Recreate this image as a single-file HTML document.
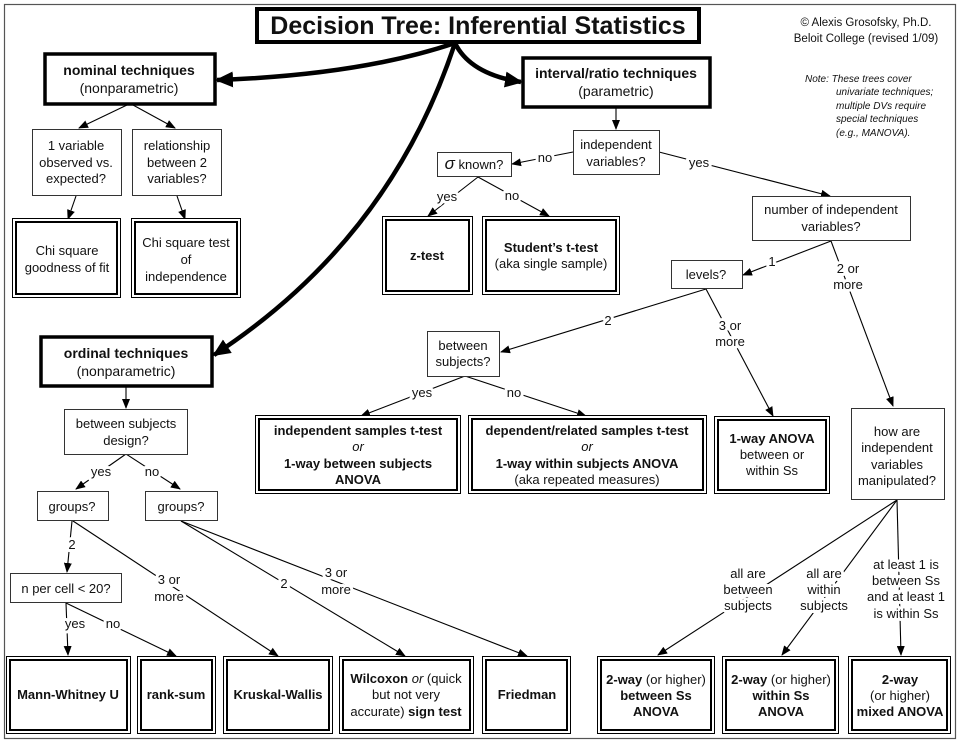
<!DOCTYPE html>
<html><head><meta charset="utf-8"><style>
html,body{margin:0;padding:0;background:#fff}
svg{display:block}
text{font-family:"Liberation Sans",Arial,sans-serif;fill:#111}
.l{font-size:13px;text-anchor:middle}
.b{font-weight:bold}
.lb{font-size:13px;text-anchor:middle;stroke:#fff;stroke-width:6;paint-order:stroke;stroke-linejoin:round}
</style></head><body>
<svg width="962" height="743" viewBox="0 0 962 743" xmlns="http://www.w3.org/2000/svg">
<defs>
<marker id="a" markerWidth="10" markerHeight="8" refX="9" refY="4" orient="auto" markerUnits="userSpaceOnUse"><path d="M0,0 L10,4 L0,8 z" fill="#000"/></marker>
<marker id="t" markerWidth="18" markerHeight="16" refX="16" refY="8" orient="auto" markerUnits="userSpaceOnUse"><path d="M0,0 L18,8 L0,16 z" fill="#000"/></marker>
</defs>
<rect x="4.5" y="4.5" width="951" height="734" fill="none" stroke="#555" stroke-width="1.2"/>

<!-- title -->
<rect x="257" y="9" width="442" height="33" fill="#fff" stroke="#000" stroke-width="4"/>
<text x="478" y="34" style="font-size:25px;font-weight:bold;text-anchor:middle">Decision Tree: Inferential Statistics</text>
<text x="866" y="26" style="font-size:11.5px;text-anchor:middle">© Alexis Grosofsky, Ph.D.</text>
<text x="866" y="42" style="font-size:11.5px;text-anchor:middle">Beloit College (revised 1/09)</text>
<g style="font-size:10px;font-style:italic">
<text x="805" y="82">Note: These trees cover</text>
<text x="836" y="95">univariate techniques;</text>
<text x="836" y="109">multiple DVs require</text>
<text x="836" y="122">special techniques</text>
<text x="836" y="136">(e.g., MANOVA).</text>
</g>

<!-- thick arrows -->
<g fill="none" stroke="#000" stroke-width="4.5">
<path d="M455,43 Q360,75 217,80" marker-end="url(#t)"/>
<path d="M455,43 Q470,74 521,82" marker-end="url(#t)"/>
<path d="M455,43 Q390,240 214,355" marker-end="url(#t)"/>
</g>

<!-- thin lines -->
<g fill="none" stroke="#000" stroke-width="1.1" marker-end="url(#a)">
<line x1="127" y1="105" x2="79" y2="128"/>
<line x1="133" y1="105" x2="175" y2="128"/>
<line x1="76" y1="196" x2="68" y2="219"/>
<line x1="177" y1="196" x2="185" y2="219"/>
<line x1="616" y1="108" x2="616" y2="129"/>
<line x1="573" y1="152" x2="512" y2="164"/>
<line x1="478" y1="177" x2="428" y2="216"/>
<line x1="478" y1="177" x2="549" y2="216"/>
<line x1="659" y1="152" x2="830" y2="196"/>
<line x1="831" y1="241" x2="743" y2="275"/>
<line x1="831" y1="241" x2="893" y2="406"/>
<line x1="706" y1="289" x2="501" y2="352"/>
<line x1="706" y1="289" x2="773" y2="416"/>
<line x1="465" y1="376" x2="361" y2="416"/>
<line x1="465" y1="376" x2="586" y2="416"/>
<line x1="897" y1="500" x2="658" y2="655"/>
<line x1="897" y1="500" x2="782" y2="655"/>
<line x1="897" y1="500" x2="901" y2="655"/>
<line x1="126" y1="387" x2="126" y2="408"/>
<line x1="126" y1="454" x2="76" y2="489"/>
<line x1="126" y1="454" x2="180" y2="489"/>
<line x1="72" y1="521" x2="67" y2="572"/>
<line x1="73" y1="521" x2="278" y2="656"/>
<line x1="66" y1="603" x2="68" y2="655"/>
<line x1="66" y1="603" x2="176" y2="656"/>
<line x1="181" y1="521" x2="405" y2="656"/>
<line x1="181" y1="521" x2="527" y2="656"/>
</g>

<!-- edge labels -->
<text class="lb" x="545" y="162">no</text>
<text class="lb" x="447" y="201">yes</text>
<text class="lb" x="512" y="200">no</text>
<text class="lb" x="699" y="167">yes</text>
<text class="lb" x="772" y="266">1</text>
<text class="lb" x="848" y="273">2 or</text><text class="lb" x="848" y="289">more</text>
<text class="lb" x="608" y="325">2</text>
<text class="lb" x="730" y="330">3 or</text><text class="lb" x="730" y="346">more</text>
<text class="lb" x="422" y="397">yes</text>
<text class="lb" x="514" y="397">no</text>
<text class="lb" x="748" y="578">all are</text><text class="lb" x="748" y="594">between</text><text class="lb" x="748" y="610">subjects</text>
<text class="lb" x="824" y="578">all are</text><text class="lb" x="824" y="594">within</text><text class="lb" x="824" y="610">subjects</text>
<text class="lb" x="906" y="569">at least 1 is</text><text class="lb" x="906" y="585">between Ss</text><text class="lb" x="906" y="601">and at least 1</text><text class="lb" x="906" y="618">is within Ss</text>
<text class="lb" x="101" y="476">yes</text>
<text class="lb" x="152" y="476">no</text>
<text class="lb" x="72" y="549">2</text>
<text class="lb" x="169" y="584">3 or</text><text class="lb" x="169" y="601">more</text>
<text class="lb" x="75" y="628">yes</text>
<text class="lb" x="113" y="628">no</text>
<text class="lb" x="284" y="588">2</text>
<text class="lb" x="336" y="577">3 or</text><text class="lb" x="336" y="594">more</text>

<!-- thick boxes -->
<g fill="#fff" stroke="#000" stroke-width="3.5">
<rect x="45" y="54" width="170" height="50"/>
<rect x="523" y="58" width="187" height="49"/>
<rect x="41" y="337" width="171" height="49"/>
</g>
<text class="l b" x="129" y="75" style="font-size:14px">nominal techniques</text>
<text class="l" x="129" y="93" style="font-size:14px">(nonparametric)</text>
<text class="l b" x="616" y="78" style="font-size:14px">interval/ratio techniques</text>
<text class="l" x="616" y="96" style="font-size:14px">(parametric)</text>
<text class="l b" x="126" y="358" style="font-size:14px">ordinal techniques</text>
<text class="l" x="126" y="376" style="font-size:14px">(nonparametric)</text>

<!-- question boxes -->
<g fill="#fff" stroke="#333" stroke-width="1">
<rect x="32.5" y="129.5" width="89" height="66"/>
<rect x="132.5" y="129.5" width="89" height="66"/>
<rect x="573.5" y="130.5" width="86" height="44"/>
<rect x="437.5" y="152.5" width="74" height="24"/>
<rect x="752.5" y="196.5" width="158" height="44"/>
<rect x="671.5" y="260.5" width="71" height="28"/>
<rect x="427.5" y="331.5" width="72" height="45"/>
<rect x="851.5" y="408.5" width="93" height="91"/>
<rect x="64.5" y="409.5" width="123" height="45"/>
<rect x="37.5" y="491.5" width="71" height="29"/>
<rect x="145.5" y="491.5" width="72" height="29"/>
<rect x="10.5" y="573.5" width="111" height="29"/>
</g>
<text class="l" x="76" y="150">1 variable</text><text class="l" x="76" y="167">observed vs.</text><text class="l" x="76" y="183">expected?</text>
<text class="l" x="177" y="150">relationship</text><text class="l" x="177" y="167">between 2</text><text class="l" x="177" y="183">variables?</text>
<text class="l" x="616" y="149">independent</text><text class="l" x="616" y="166">variables?</text>
<text class="l" x="474" y="169"><tspan style="font-style:italic;font-size:17px">σ</tspan> known?</text>
<text class="l" x="831" y="214">number of independent</text><text class="l" x="831" y="231">variables?</text>
<text class="l" x="706" y="279">levels?</text>
<text class="l" x="463" y="350">between</text><text class="l" x="463" y="366">subjects?</text>
<text class="l" x="897" y="436">how are</text><text class="l" x="897" y="452">independent</text><text class="l" x="897" y="469">variables</text><text class="l" x="897" y="485">manipulated?</text>
<text class="l" x="126" y="428">between subjects</text><text class="l" x="126" y="445">design?</text>
<text class="l" x="72" y="511">groups?</text>
<text class="l" x="181" y="511">groups?</text>
<text class="l" x="66" y="593">n per cell &lt; 20?</text>

<!-- double boxes -->
<g fill="#fff" stroke="#000">
<g stroke-width="1"><rect x="12.5" y="218.5" width="108" height="79"/><rect x="131.5" y="218.5" width="109" height="79"/>
<rect x="382.5" y="216.5" width="90" height="78"/><rect x="482.5" y="216.5" width="137" height="78"/>
<rect x="255.5" y="415.5" width="205" height="78"/><rect x="468.5" y="415.5" width="238" height="78"/><rect x="714.5" y="416.5" width="115" height="77"/>
<rect x="6.5" y="656.5" width="124" height="77"/><rect x="137.5" y="656.5" width="78" height="77"/><rect x="223.5" y="656.5" width="109" height="77"/>
<rect x="339.5" y="656.5" width="134" height="77"/><rect x="482.5" y="656.5" width="88" height="77"/>
<rect x="597.5" y="656.5" width="117" height="77"/><rect x="722.5" y="656.5" width="116" height="77"/><rect x="848.5" y="656.5" width="102" height="77"/></g>
<g stroke-width="2" fill="none"><rect x="16" y="222" width="101" height="72"/><rect x="135" y="222" width="102" height="72"/>
<rect x="386" y="220" width="83" height="71"/><rect x="486" y="220" width="130" height="71"/>
<rect x="259" y="419" width="198" height="71"/><rect x="472" y="419" width="231" height="71"/><rect x="718" y="420" width="108" height="70"/>
<rect x="10" y="660" width="117" height="70"/><rect x="141" y="660" width="71" height="70"/><rect x="227" y="660" width="102" height="70"/>
<rect x="343" y="660" width="127" height="70"/><rect x="486" y="660" width="81" height="70"/>
<rect x="601" y="660" width="110" height="70"/><rect x="726" y="660" width="109" height="70"/><rect x="852" y="660" width="95" height="70"/></g>
</g>
<text class="l" x="67" y="255">Chi square</text><text class="l" x="67" y="272">goodness of fit</text>
<text class="l" x="186" y="247">Chi square test</text><text class="l" x="186" y="264">of</text><text class="l" x="186" y="281">independence</text>
<text class="l b" x="427" y="260">z-test</text>
<text class="l b" x="551" y="252">Student’s t-test</text><text class="l" x="551" y="268">(aka single sample)</text>
<text class="l b" x="358" y="435">independent samples t-test</text><text class="l" x="358" y="451" style="font-style:italic">or</text><text class="l b" x="358" y="468">1-way between subjects</text><text class="l b" x="358" y="484">ANOVA</text>
<text class="l b" x="587" y="435">dependent/related samples t-test</text><text class="l" x="587" y="451" style="font-style:italic">or</text><text class="l b" x="587" y="468">1-way within subjects ANOVA</text><text class="l" x="587" y="484">(aka repeated measures)</text>
<text class="l b" x="772" y="443">1-way ANOVA</text><text class="l" x="772" y="459">between or</text><text class="l" x="772" y="475">within Ss</text>
<text class="l b" x="68" y="699">Mann-Whitney U</text>
<text class="l b" x="176" y="699">rank-sum</text>
<text class="l b" x="278" y="699">Kruskal-Wallis</text>
<text class="l" x="406" y="683"><tspan class="b">Wilcoxon</tspan> <tspan style="font-style:italic">or</tspan> (quick</text><text class="l" x="406" y="699">but not very</text><text class="l" x="406" y="716">accurate) <tspan class="b">sign test</tspan></text>
<text class="l b" x="527" y="699">Friedman</text>
<text class="l" x="656" y="684"><tspan class="b">2-way</tspan> (or higher)</text><text class="l b" x="656" y="700">between Ss</text><text class="l b" x="656" y="716">ANOVA</text>
<text class="l" x="781" y="684"><tspan class="b">2-way</tspan> (or higher)</text><text class="l b" x="781" y="700">within Ss</text><text class="l b" x="781" y="716">ANOVA</text>
<text class="l b" x="900" y="684">2-way</text><text class="l" x="900" y="700">(or higher)</text><text class="l b" x="900" y="716">mixed ANOVA</text>
</svg>
</body></html>
